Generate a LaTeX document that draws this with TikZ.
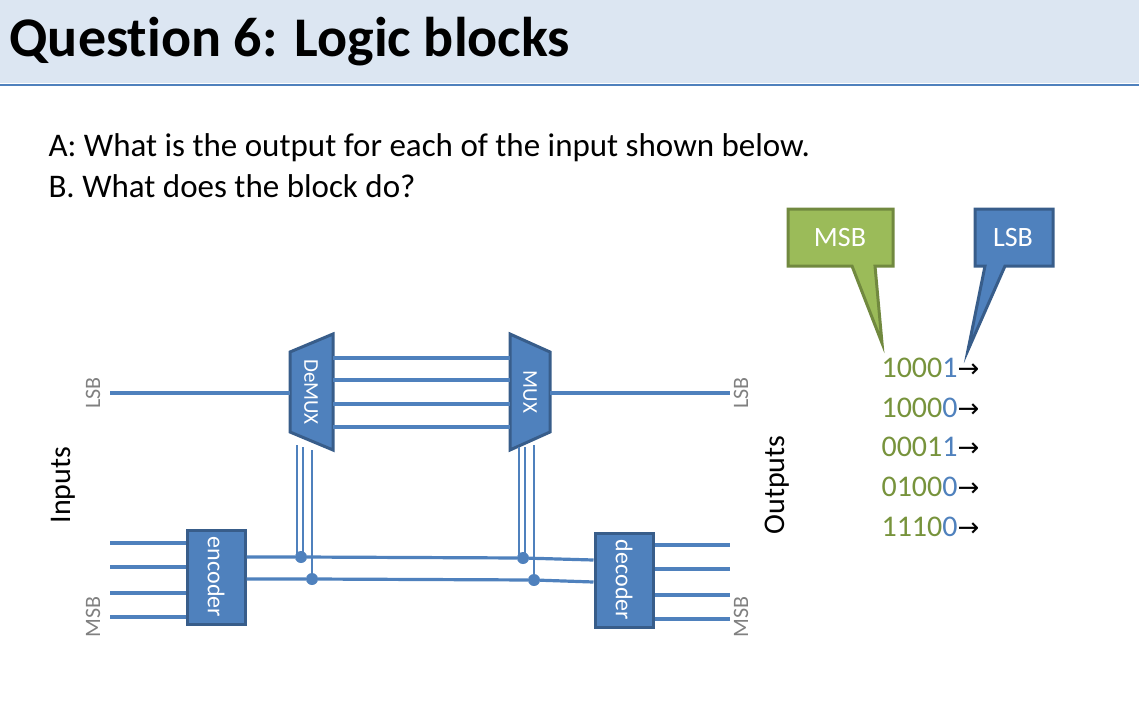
\documentclass[tikz,border=0pt]{standalone}
\usepackage{fontspec}
\setmainfont{Carlito}[Ligatures=NoCommon]
\newfontfamily\arrowfont{DejaVu Sans}
\usetikzlibrary{positioning}
\definecolor{wire}{HTML}{4F81BD}
\definecolor{edge}{HTML}{385D8A}
\definecolor{band}{HTML}{DCE6F2}
\definecolor{grn}{HTML}{9BBB59}
\definecolor{grnedge}{HTML}{71893F}
\definecolor{numg}{HTML}{77933C}
\begin{document}
\begin{tikzpicture}[x=1pt,y=-1pt,
  w/.style={wire,line width=3.2pt},
  blk/.style={draw=edge,fill=wire,line width=3pt},
  lbl/.style={text=gray,font=\fontsize{22}{22}\selectfont,rotate=90},
  dot/.style={circle,fill=wire,inner sep=0pt,minimum size=12pt},
  num/.style={anchor=west,font=\fontsize{30}{30}\selectfont}]
\useasboundingbox (0,0) rectangle (1139,715);
% title band
\fill[band] (0,0) rectangle (1139,83);
\draw[wire,line width=2.5pt] (0,85) -- (1139,85);
\node[anchor=west,font=\bfseries\fontsize{56}{56}\selectfont] (title) at (6,42) {Question 6: Logic blocks};
\node[anchor=west,font=\fontsize{33}{33}\selectfont] (qa) at (45,148) {A: What is the output for each of the input shown below.};
\node[anchor=west,font=\fontsize{33}{33}\selectfont] (qb) at (45,186) {B. What does the block do?};
% DeMUX and MUX
\draw[blk] (290,352) -- (333,334) -- (333,450) -- (290,432) -- cycle;
\draw[blk] (510,334) -- (550,352) -- (550,432) -- (510,450) -- cycle;
\node[rotate=-90,text=white,font=\fontsize{21}{21}\selectfont] (demux) at (311,392) {DeMUX};
\node[rotate=-90,text=white,font=\fontsize{21}{21}\selectfont] (mux) at (530,392) {MUX};
\foreach \y in {358,380,404,427}
  \draw[w] (333,\y) -- (510,\y);
\coordinate (lsbin) at (110,393);
\coordinate (lsbout) at (730,393);
\draw[w] (lsbin) -- (290,393);
\draw[w] (550,393) -- (lsbout);
% encoder and decoder
\node[blk,minimum width=58pt,minimum height=94pt,inner sep=0pt] (enc) at (216,577) {};
\node[rotate=-90,text=white,font=\fontsize{24}{24}\selectfont] at (enc) {encoder};
\node[blk,minimum width=58pt,minimum height=94pt,inner sep=0pt] (dec) at (624,580) {};
\node[rotate=-90,text=white,font=\fontsize{24}{24}\selectfont] at (dec) {decoder};
\foreach \y in {543,567,593,617}
  \draw[w] (110,\y) -- (enc.west |- 0,\y);
\foreach \y in {545,569,595,619}
  \draw[w] (dec.east |- 0,\y) -- (730,\y);
% control lines
\node[dot] (d1) at (301,557) {};
\node[dot] (d2) at (312,579) {};
\node[dot] (d3) at (523,558) {};
\node[dot] (d4) at (534,580) {};
\draw[w] (enc.east |- 0,557) -- (d1) -- (d3) -- (dec.west |- 0,560);
\draw[w] (enc.east |- 0,579) -- (d2) -- (d4) -- (dec.west |- 0,582);
\draw[w,line width=2.6pt] (297,445) -- (297,557);
\draw[w,line width=2.6pt] (303,447) -- (303,557);
\draw[w,line width=2.6pt] (312,450) -- (d2);
\draw[w,line width=2.6pt] (519,447) -- (519,558);
\draw[w,line width=2.6pt] (525,447) -- (525,558);
\draw[w,line width=2.6pt] (534,445) -- (d4);
% side labels
\node[lbl] at (93,393) {LSB};
\node[lbl] at (93,617) {MSB};
\node[lbl] at (741,393) {LSB};
\node[lbl] at (741,617) {MSB};
\node[rotate=90,font=\fontsize{30}{30}\selectfont] at (63,485) {Inputs};
\node[rotate=90,font=\fontsize{30}{30}\selectfont] at (777,485) {Outputs};
% callouts
\draw[fill=grn,draw=grnedge,line width=3pt] (788,209) -- (893,209) -- (893,266) -- (875,266)
  -- (882,343) -- (852,266) -- (788,266) -- cycle;
\node[text=white,font=\fontsize{28}{28}\selectfont] (msb) at (840,238) {MSB};
\draw[fill=wire,draw=edge,line width=3pt] (975,209) -- (1053,209) -- (1053,266) -- (1005,266)
  -- (968,350) -- (985,266) -- (975,266) -- cycle;
\node[text=white,font=\fontsize{28}{28}\selectfont] (lsb) at (1013,238) {LSB};
% outputs
\foreach \bits/\last/\y in {1000/1/368,1000/0/408,0001/1/447,0100/0/487,1110/0/527}
  \node[num] at (878,\y) {\textcolor{numg}{\bits}\textcolor{wire}{\last}{\arrowfont\fontsize{26}{26}\selectfont→}};
\end{tikzpicture}
\end{document}
